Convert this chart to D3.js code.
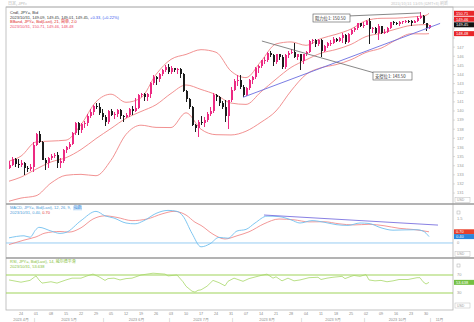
<!DOCTYPE html>
<html><head><meta charset="utf-8">
<script src="https://cdn.jsdelivr.net/npm/d3@7"></script>
<style>
body{margin:0;background:#fff;}
svg{display:block;font-family:"Noto Sans CJK SC","Noto Sans",sans-serif;}
.lat{font-family:"Liberation Sans","Noto Sans CJK SC",sans-serif;}
</style></head>
<body><svg id="c" width="474" height="322"></svg>
<script>
// ---------- DATA ----------
const startDate = "2023-04-18", endDate = "2023-11-01";
const opens = [133.75,134.10,134.70,134.20,134.10,134.30,133.70,133.60,133.90,136.30,137.50,136.55,134.65,134.30,134.80,135.10,135.20,134.30,134.50,135.70,136.10,136.40,137.60,138.70,137.90,138.60,138.70,139.50,139.90,140.60,140.40,139.80,139.30,138.80,140.00,139.60,139.65,140.10,139.40,139.35,139.60,140.20,140.00,140.30,141.80,141.90,141.50,141.90,143.10,143.70,143.50,144.00,144.50,144.80,144.30,144.70,144.50,144.60,144.10,142.20,141.30,140.40,138.50,138.10,138.80,138.70,139.00,139.70,140.00,141.80,141.50,140.90,140.40,139.40,141.20,142.30,143.30,143.40,142.60,141.80,142.50,143.40,143.70,144.70,144.90,145.55,145.60,146.40,146.10,145.40,146.20,145.90,144.80,146.10,146.40,146.50,145.90,146.20,145.50,146.20,146.50,147.70,147.75,147.30,147.80,146.60,147.10,147.40,147.50,147.90,147.70,147.95,148.30,147.60,148.40,148.90,149.10,149.60,149.30,149.40,149.90,149.00,149.10,148.50,149.30,148.50,148.70,149.10,149.80,149.60,149.50,149.80,149.85,149.90,149.85,149.70,149.90,150.20,150.40,149.60,149.09];
const highs = [134.55,134.95,134.80,134.70,134.60,134.40,134.00,134.20,136.60,137.60,137.80,136.70,134.80,135.00,135.30,135.40,135.50,134.80,135.80,136.20,136.60,137.70,138.80,138.80,138.70,138.90,139.70,140.20,140.70,140.90,140.90,140.20,139.60,140.10,140.20,139.90,140.20,140.20,139.60,139.80,140.30,140.50,141.40,141.90,142.00,142.00,142.00,143.20,143.90,143.80,144.20,144.60,145.00,145.10,144.90,144.75,144.70,144.70,144.20,142.30,141.40,140.60,138.60,139.00,139.40,139.30,139.90,140.40,142.00,141.90,141.60,141.10,141.20,141.20,142.60,143.50,143.90,143.90,142.90,142.60,143.50,143.80,144.80,145.00,145.60,145.90,146.50,146.60,146.20,146.30,146.30,146.10,146.20,146.60,146.80,147.40,146.30,146.30,146.30,146.60,147.80,147.90,147.90,147.90,147.90,147.20,147.60,147.80,148.10,148.00,148.10,148.50,148.40,148.50,149.00,149.20,149.70,149.70,149.80,150.00,150.16,149.20,149.20,149.50,149.35,149.00,149.20,149.80,149.85,149.80,149.90,149.90,150.00,150.00,150.00,150.00,150.40,150.80,150.50,149.70,149.45];
const lows = [133.60,134.00,133.90,133.80,133.90,133.00,133.30,133.40,133.30,136.20,136.50,134.60,133.50,133.80,134.60,134.80,133.80,133.70,134.30,135.40,135.80,136.30,137.40,137.40,137.60,138.10,138.40,139.20,139.60,140.20,139.60,139.00,138.40,138.60,139.40,139.10,139.30,139.10,138.80,139.20,139.30,139.60,139.90,140.20,141.50,141.10,141.10,141.40,142.90,142.90,143.20,143.80,144.30,144.10,144.00,144.30,144.10,143.60,142.10,141.00,140.20,138.40,137.70,137.20,138.50,138.20,138.80,139.40,139.80,141.10,140.60,140.20,138.80,138.05,141.00,142.20,142.70,142.40,141.50,141.60,142.30,143.00,143.50,144.20,144.70,145.20,145.40,145.90,144.90,145.20,145.60,144.60,144.60,145.80,146.20,145.80,145.60,144.50,145.10,146.00,146.40,147.30,147.00,147.10,145.90,146.50,146.90,147.10,147.30,147.60,147.60,147.50,147.30,147.50,148.30,148.70,148.90,149.20,149.10,149.40,147.30,148.60,148.40,147.80,148.40,148.40,148.60,149.00,149.40,149.40,149.30,149.50,149.60,149.60,149.30,149.60,149.80,150.10,149.50,148.80,149.01];
const closes = [134.10,134.70,134.20,134.10,134.30,133.70,133.60,133.90,136.30,137.50,136.55,134.65,134.30,134.80,135.10,135.20,134.30,134.50,135.70,136.10,136.40,137.60,138.70,137.90,138.60,138.70,139.50,139.90,140.60,140.40,139.80,139.30,138.80,140.00,139.60,139.65,140.10,139.40,139.35,139.60,140.20,140.00,140.30,141.80,141.90,141.50,141.90,143.10,143.70,143.50,144.00,144.50,144.80,144.30,144.70,144.50,144.60,144.10,142.20,141.30,140.40,138.50,138.10,138.80,138.70,139.00,139.70,140.00,141.80,141.50,140.90,140.40,139.40,141.20,142.30,143.30,143.40,142.60,141.80,142.50,143.40,143.70,144.70,144.90,145.55,145.60,146.40,146.10,145.40,146.20,145.90,144.80,146.10,146.40,146.50,145.90,146.20,145.50,146.20,146.50,147.70,147.75,147.30,147.80,146.60,147.10,147.40,147.50,147.90,147.70,147.95,148.30,147.60,148.40,148.90,149.10,149.60,149.30,149.40,149.90,149.00,149.10,148.50,149.30,148.50,148.70,149.10,149.80,149.60,149.50,149.80,149.85,149.90,149.85,149.70,149.90,150.20,150.40,149.60,149.10,149.45];

const bbIdx   = [0,4,9,14,19,24,29,34,39,44,49,54,59,64,69,74,79,84,89,94,99,104,109,114,119,124,129,134,139,140];
const bbUpper = [134.5,135.05,136.6,136.7,136.8,138.5,141.0,141.84,140.95,141.44,144.0,145.66,146.2,146.72,146.44,144.37,143.66,145.44,147.35,147.57,147.2,147.94,148.4,148.98,149.9,150.16,150.18,150.3,150.49,150.71];
const bbMid   = [132.3,132.75,133.62,134.41,134.88,135.77,136.97,138.08,139.19,139.94,140.68,141.92,142.85,142.36,141.78,140.87,140.72,142.1,143.49,144.77,145.6,146.34,146.74,147.3,148.16,148.52,148.98,149.38,149.47,149.46];
const bbLower = [130.1,130.45,130.7,132.1,132.95,133.05,132.9,134.6,137.43,138.44,138.2,138.18,139.8,138.0,137.4,137.37,137.78,138.76,140.0,142.2,144.0,144.74,145.08,145.62,146.42,146.88,147.78,148.46,148.45,148.48];

const macdIdx  = [0,5,7,9,10,14,17,19,24,29,32,35,39,42,45,49,53,56,58,61,64,67,70,73,76,79,82,86,90,94,97,101,105,109,113,117,120,124,128,132,136,138,140];
const macdVals = [0.32,0.45,0.36,0.85,0.98,0.75,0.6,0.66,1.4,1.98,1.7,1.56,1.25,1.2,1.4,1.85,2.04,1.98,1.68,0.6,-0.24,-0.05,0.35,0.3,0.75,0.85,1.25,1.68,1.65,1.45,1.25,1.4,1.3,1.15,1.1,1.25,1.22,0.95,0.8,0.82,0.83,0.75,0.40];
const sigIdx   = [0,5,9,12,17,20,24,28,32,36,41,46,51,55,59,62,64,68,72,76,80,85,90,95,100,105,110,115,120,125,130,135,140];
const sigVals  = [-0.1,0.18,0.38,0.62,0.72,0.68,0.95,1.5,1.7,1.6,1.4,1.5,1.82,1.98,1.75,1.3,1.1,0.55,0.25,0.45,0.7,1.2,1.5,1.45,1.32,1.33,1.2,1.13,1.17,1.08,0.92,0.84,0.70];

const rsiIdx  = [0,4,7,9,10,11,14,16,19,21,24,26,28,30,32,33,35,37,39,41,44,48,52,53,56,58,59,61,62,63,64,66,68,70,72,73,75,78,80,84,86,88,89,91,93,95,97,100,103,104,106,108,111,112,114,115,117,119,120,122,124,126,128,130,133,136,137,138,139,140];
const rsiVals = [59,54,58,68,59,52,55,52,59,63,63,68,72,66,58,62,63,59,62,63,70,74,72,68,70,55,45,34,32,36,37,45,58,53,46,56,63,56,62,69,72,63,66,57,63,57,59,64,65,60,63,65,67,62,67,69,67,71,59,57,58,55,57,60,60,64,64,55,50,53.64];

const priceTicks = [131,132,133,134,135,136,137,138,139,140,141,142,143,144,145,146,147,148,149,150];
const macdTicks = ["1.5","0"];
const macdTickVals = [1.5,0];
const rsiTicks = [70,50,30];
const monthNames = ["2023 4月","2023 5月","2023 6月","2023 7月","2023 8月","2023 9月","2023 10月","11月"];

// trend lines / annotations (index, value)
const trendMain = [[78,141.5],[143.7,149.6]];
const trendMacd = [[85,1.75],[143,1.12]];
const resistLine = [[113.3,150.42],[137.3,150.75]];
const supportLine = [[84.3,147.67],[122,144.15]];

// ---------- DRAW ----------
const svg = d3.select("#c");
const L = 6, R = 453;
const xs = d3.scaleLinear().domain([-1,148]).range([L,R]);
const ym = d3.scaleLinear().domain([129.8,151.4]).range([204,7]);
const yM = d3.scaleLinear().domain([-0.94,2.44]).range([258,204]);
const yR = d3.scaleLinear().domain([-7.8,107.8]).range([310,258]);

const dates = d3.timeDay.range(new Date(startDate+"T00:00"), new Date(endDate+"T00:00")).filter(d=>d.getDay()!==0&&d.getDay()!==6);

// header
svg.append("text").attr("x",8).attr("y",5).attr("font-size",4).attr("fill","#b0b0b0").text("日足, JPY=");
svg.append("text").attr("x",448).attr("y",5).attr("font-size",4).attr("fill","#c4c4c4").attr("text-anchor","end").text("2023/10/31 13:05 (GMT+8) 刷新");

// frames
const g = svg.append("g");
g.append("rect").attr("x",L).attr("y",7).attr("width",R-L).attr("height",303).attr("fill","none").attr("stroke","#b5b5b5").attr("stroke-width",0.8);
g.append("line").attr("x1",L).attr("x2",474).attr("y1",7).attr("y2",7).attr("stroke","#b5b5b5").attr("stroke-width",0.8);
[204,258].forEach(y=>g.append("line").attr("x1",L).attr("x2",474).attr("y1",y).attr("y2",y).attr("stroke","#9a9a9a").attr("stroke-width",1.3));

// Bollinger bands
const bbLine = arr => d3.line().x((d,k)=>xs(bbIdx[k])).y(d=>ym(d)).curve(d3.curveMonotoneX)(arr);
[bbUpper,bbMid,bbLower].forEach(a=>svg.append("path").attr("d",bbLine(a)).attr("fill","none").attr("stroke","#ef8585").attr("stroke-width",0.9));

// candles
const up="#ec2a82", dn="#1c1c1c";
const cg = svg.append("g").attr("shape-rendering","crispEdges");
closes.forEach((c,i)=>{
  const o=opens[i], col = c>=o?up:dn, cx = Math.round(xs(i));
  cg.append("rect").attr("x",cx).attr("width",1).attr("y",ym(highs[i])).attr("height",Math.max(1,ym(lows[i])-ym(highs[i]))).attr("fill",col);
  const top = ym(Math.max(o,c)), h = Math.max(1, ym(Math.min(o,c))-top);
  cg.append("rect").attr("x",cx-0.5).attr("width",2).attr("y",top).attr("height",h).attr("fill",col);
});

// trend line & annotations
const tl = d3.line().x(d=>xs(d[0])).y(d=>ym(d[1]));
svg.append("path").attr("d",tl(trendMain)).attr("stroke","#6b6ee0").attr("stroke-width",0.9).attr("fill","none");
svg.append("path").attr("d",tl(resistLine)).attr("stroke","#6a6a6a").attr("stroke-width",0.8).attr("fill","none");
svg.append("path").attr("d",tl(supportLine)).attr("stroke","#6a6a6a").attr("stroke-width",0.8).attr("fill","none");
function note(x,y,w,txt){
  svg.append("rect").attr("x",x).attr("y",y).attr("width",w).attr("height",8).attr("fill","#fff").attr("stroke","#555").attr("stroke-width",0.6);
  svg.append("text").attr("x",x+2).attr("y",y+5.6).attr("font-size",4.3).attr("fill","#333").text(txt);
}
note(313,14,37,"阻力位1: 150.50");
note(373,72,39,"支撑位1: 148.50");

// legends
const lg = (x,y,parts,fs)=>{const t=svg.append("text").attr("class","lat").attr("x",x).attr("y",y).attr("font-size",fs||4);parts.forEach(p=>t.append("tspan").attr("fill",p[1]).text(p[0]));};
lg(10,13.8,[["Cndl, JPY=, Bid","#333"]]);
lg(10,18.5,[["2023/10/31, 149.09, 149.45, 149.01, 149.45, ","#333"],["+0.33, (+0.22%)","#3355ee"]]);
lg(10,23.2,[["BBand, JPY=, Bid(Last), 21, 简单, 2.0","#e02424"]]);
lg(10,27.9,[["2023/10/31, 150.71, 149.46, 148.48","#f04a6a"]]);

// tags
const tags = [
  {y: ym(bbUpper[bbUpper.length-1]), t:"150.71", c:"#e8262a"},
  {y: ym(bbMid[bbMid.length-1])-5.5, t:"149.46", c:"#e8262a"},
  {y: ym(closes[closes.length-1]), t:"149.45", c:"#111"},
  {y: ym(bbLower[bbLower.length-1]), t:"148.48", c:"#e8262a"},
  {y: yM(sigVals[sigVals.length-1]), t:"0.70", c:"#e8402a"},
  {y: yM(macdVals[macdVals.length-1]), t:"0.40", c:"#2a86dc"},
  {y: yR(rsiVals[rsiVals.length-1]), t:"53.638", c:"#74c043"}
];
const free = y => tags.every(t=>Math.abs(t.y-y)>5);

// right axis ticks
const ax = svg.append("g").attr("class","lat").attr("font-size",4).attr("fill","#9a9a9a");
priceTicks.forEach(v=>{
  ax.append("line").attr("x1",R).attr("x2",R+2).attr("y1",ym(v)).attr("y2",ym(v)).attr("stroke","#bbb").attr("stroke-width",0.5);
  if(free(ym(v))) ax.append("text").attr("x",R+4).attr("y",ym(v)+1.4).text(v);
});
macdTickVals.forEach((v,k)=>{ if(free(yM(v))) ax.append("text").attr("x",R+4).attr("y",yM(v)+1.4).text(macdTicks[k]); });
ax.append("rect").attr("x",R+4).attr("y",211).attr("width",3).attr("height",3).attr("fill","none").attr("stroke","#aaa").attr("stroke-width",0.5);
rsiTicks.forEach(v=>{ if(free(yR(v))) ax.append("text").attr("x",R+4).attr("y",yR(v)+1.4).text(v); });
ax.append("rect").attr("x",R+4).attr("y",264).attr("width",3).attr("height",3).attr("fill","none").attr("stroke","#aaa").attr("stroke-width",0.5);

tags.forEach(t=>{
  svg.append("rect").attr("x",R+1).attr("y",t.y-2.5).attr("width",20).attr("height",5).attr("fill",t.c);
  svg.append("text").attr("class","lat").attr("x",R+3).attr("y",t.y+1.5).attr("font-size",4).attr("fill","#fff").text(t.t);
});
function unitBox(y){
  svg.append("rect").attr("x",R+2).attr("y",y).attr("width",15).attr("height",5).attr("fill","#fff").attr("stroke","#bbb").attr("stroke-width",0.5);
  svg.append("text").attr("class","lat").attr("x",R+4).attr("y",y+3.8).attr("font-size",3.5).attr("fill","#999").text("USD");
}
unitBox(197.5); unitBox(251.5); unitBox(303);

// MACD panel
svg.append("line").attr("x1",L).attr("x2",R).attr("y1",yM(0)).attr("y2",yM(0)).attr("stroke","#8cc6f0").attr("stroke-width",0.9);
const mLine = (idx,vals)=>d3.line().x((d,k)=>xs(idx[k])).y(d=>yM(d)).curve(d3.curveMonotoneX)(vals);
svg.append("path").attr("d",mLine(sigIdx,sigVals)).attr("fill","none").attr("stroke","#f08c8c").attr("stroke-width",0.9);
svg.append("path").attr("d",mLine(macdIdx,macdVals)).attr("fill","none").attr("stroke","#72c0ee").attr("stroke-width",0.9);
svg.append("path").attr("d",d3.line().x(d=>xs(d[0])).y(d=>yM(d[1]))(trendMacd)).attr("fill","none").attr("stroke","#7a72e0").attr("stroke-width",0.9);
lg(10,209.3,[["MACD, JPY=, Bid(Last), 12, 26, 9, ","#4a9ad8"]]);
svg.append("rect").attr("x",73).attr("y",205.8).attr("width",9).attr("height",4.6).attr("fill","#cfe6fb");
svg.append("text").attr("class","lat").attr("x",73.8).attr("y",209.3).attr("font-size",4).attr("fill","#3a8ad8").text("指数");
lg(10,214.1,[["2023/10/31, ","#4a9ad8"],["0.40","#4a9ad8"],[", ","#4a9ad8"],["0.70","#e03a3a"]]);

// RSI panel
[70,30].forEach(v=>svg.append("line").attr("x1",L).attr("x2",R).attr("y1",yR(v)).attr("y2",yR(v)).attr("stroke","#9fd45a").attr("stroke-width",1.1));
svg.append("path").attr("d",d3.line().x((d,k)=>xs(rsiIdx[k])).y(d=>yR(d)).curve(d3.curveLinear)(rsiVals)).attr("fill","none").attr("stroke","#a8d86a").attr("stroke-width",0.8);
lg(10,263,[["RSI, JPY=, Bid(Last), 14, 威尔德平滑","#86c03a"]]);
lg(10,267.8,[["2023/10/31, 53.638","#86c03a"]]);

// date axis
const da = svg.append("g").attr("class","lat").attr("font-size",3.8).attr("fill","#8a8a8a").attr("text-anchor","middle");
dates.forEach((d,i)=>{ if(d.getDay()===1) da.append("text").attr("x",xs(i)).attr("y",315).text(d3.timeFormat("%d")(d)); });
const monthStarts = [];
dates.forEach((d,i)=>{ if(i===0 || d.getMonth()!==dates[i-1].getMonth()) monthStarts.push(i); });
monthNames.forEach((m,k)=>{
  let a, b;
  if(k < monthStarts.length){ a = monthStarts[k]; b = (k+1<monthStarts.length? monthStarts[k+1] : dates.length); }
  else { a = dates.length; b = 147; }
  const cx = (xs(a-0.5)+xs(b-0.5))/2;
  da.append("text").attr("x",Math.min(cx,R-6)).attr("y",320.5).text(m);
  if(k>0) da.append("text").attr("x",xs(a-0.5)).attr("y",320.5).text("|");
});
</script>
</body></html>
